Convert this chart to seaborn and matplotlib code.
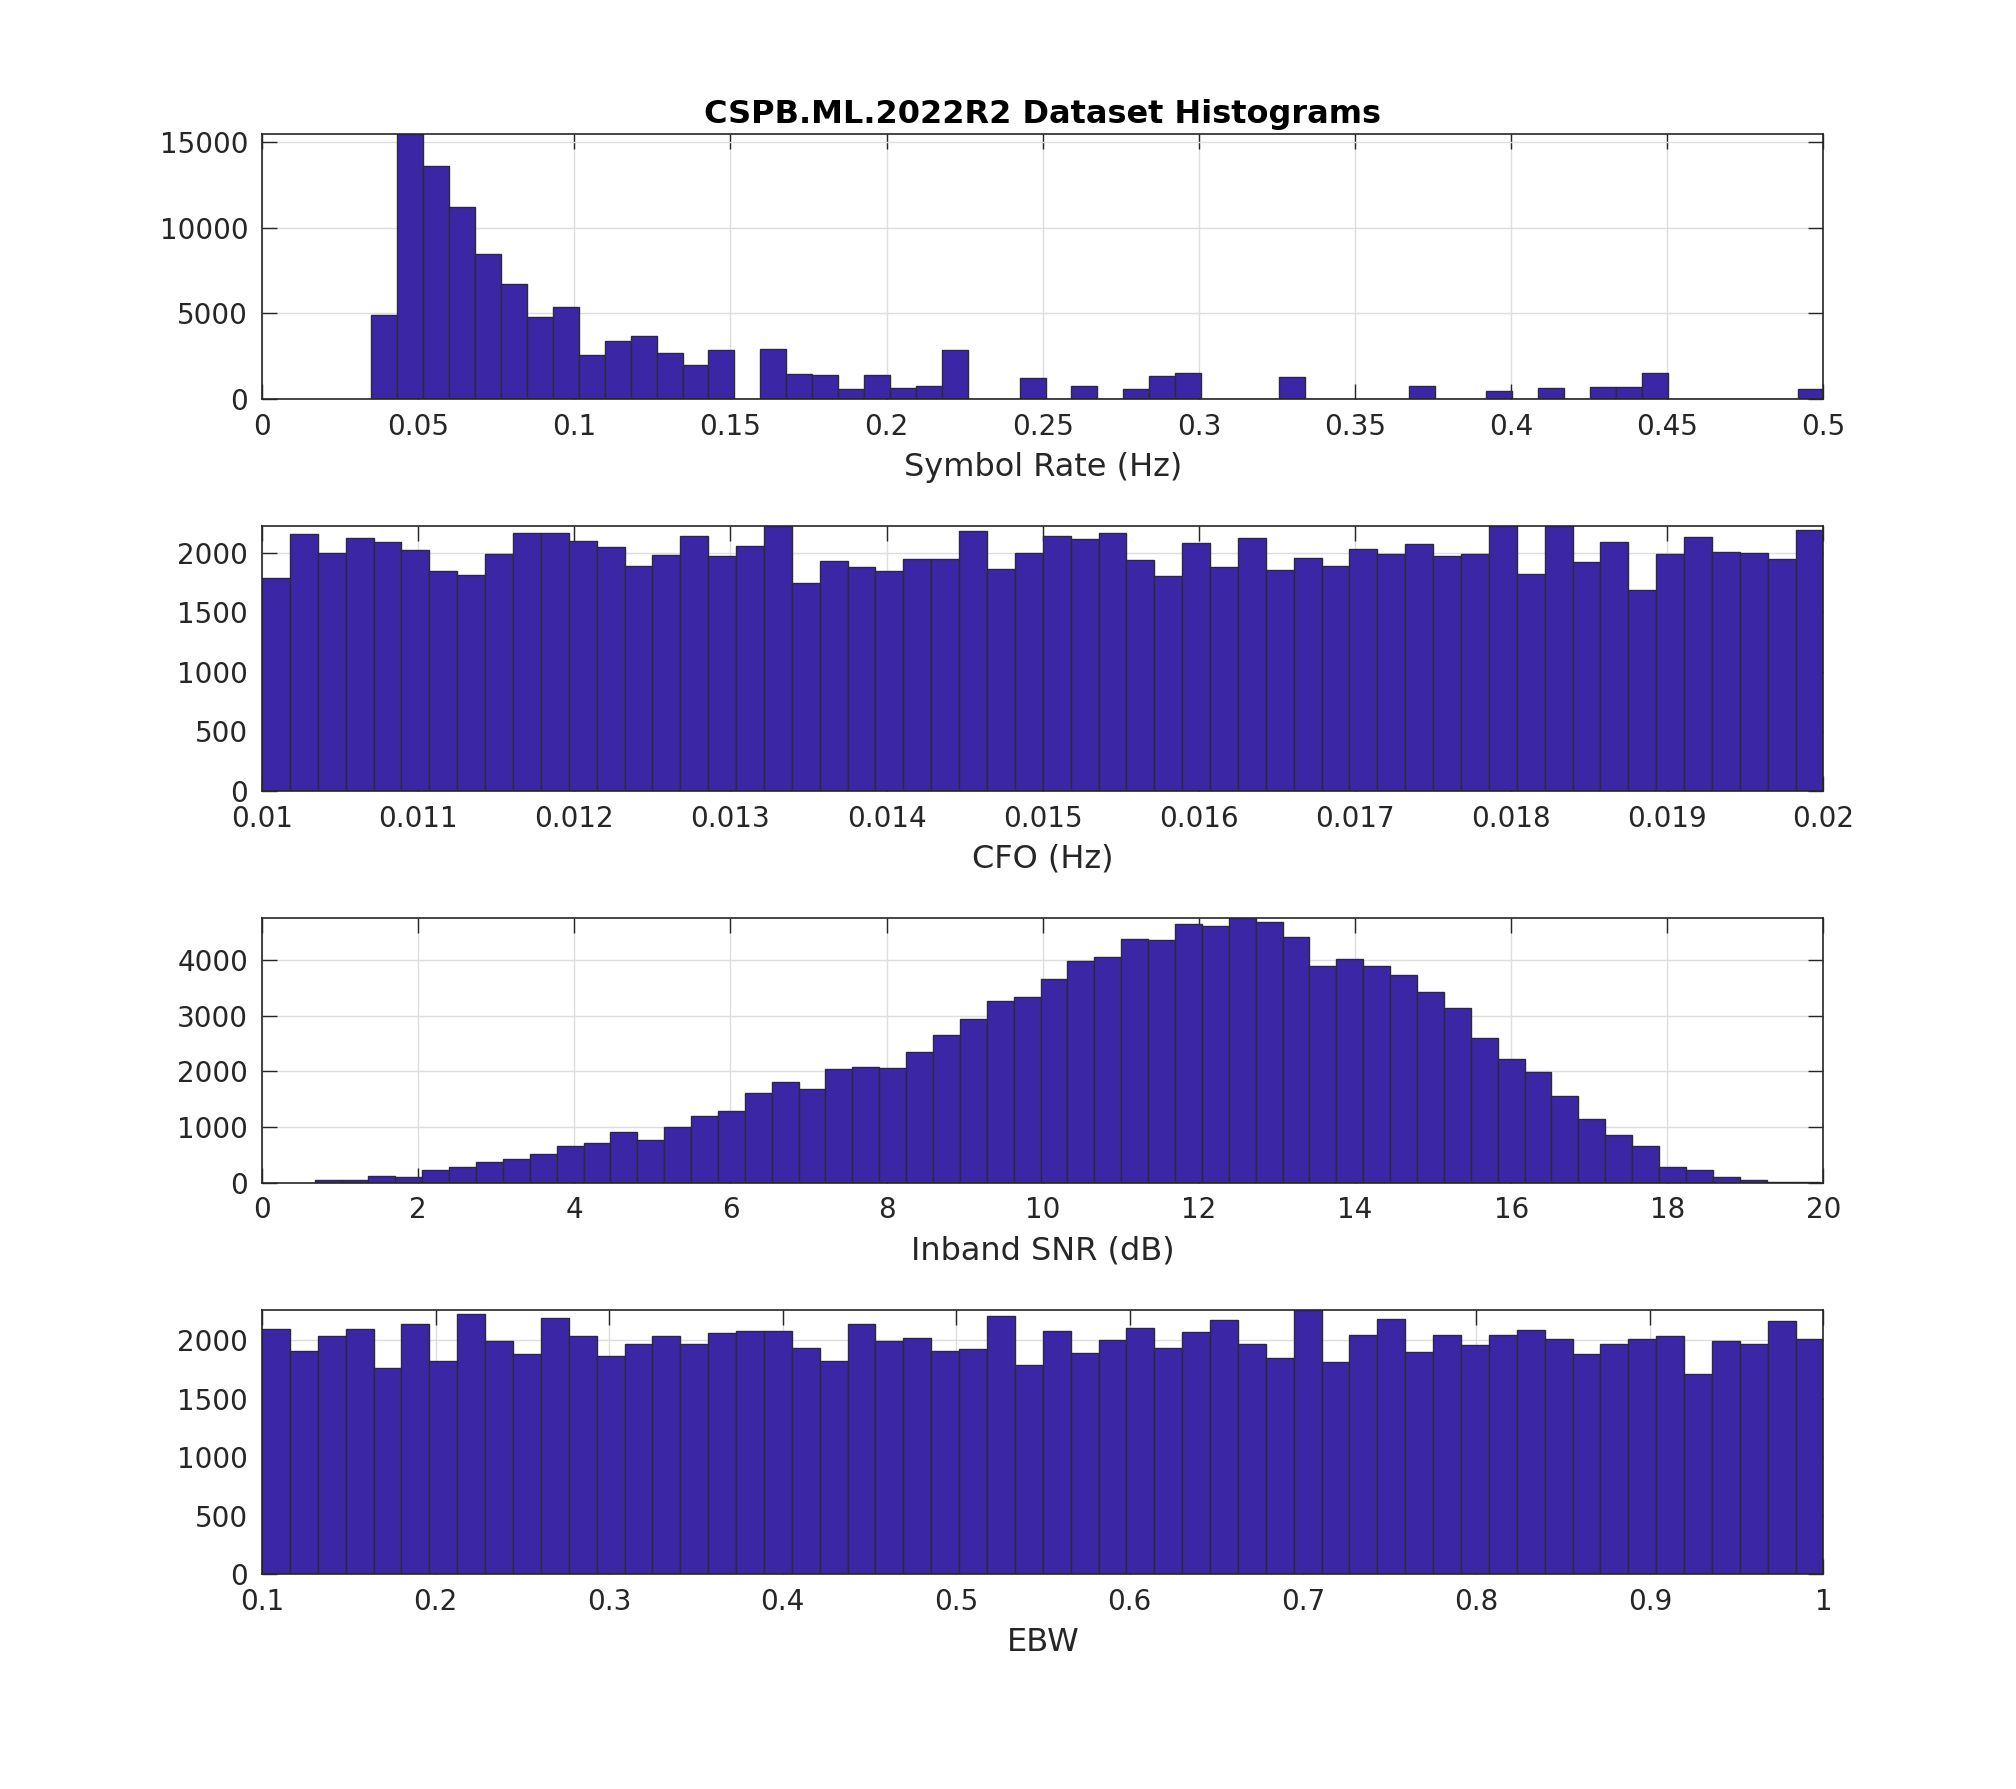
import seaborn as sns
import pandas as pd
import numpy as np
import matplotlib
matplotlib.use('Agg')
import matplotlib.pyplot as plt

# histogram counts (56 bins each)
sym_rate_range = (0.035, 0.5)
sym_rate_counts = [4884, 15465, 13605, 11221, 8450, 6686, 4787, 5388, 2558, 3372,
                   3682, 2674, 1957, 2849, 0, 2907, 1453, 1395, 581, 1415,
                   620, 756, 2849, 0, 0, 1221, 0, 736, 0, 581,
                   1337, 1512, 0, 0, 0, 1260, 0, 0, 0, 0,
                   736, 0, 0, 484, 0, 620, 0, 717, 678, 1492,
                   0, 0, 0, 0, 0, 581]

cfo_range = (0.01, 0.02)
cfo_counts = [1785, 2154, 1994, 2120, 2092, 2020, 1849, 1810, 1986, 2162,
              2162, 2101, 2050, 1891, 1978, 2137, 1969, 2059, 2225, 1745,
              1927, 1877, 1849, 1944, 1944, 2179, 1866, 2000, 2137, 2115,
              2170, 1936, 1807, 2078, 1880, 2120, 1857, 1953, 1888, 2034,
              1986, 2070, 1969, 1986, 2222, 1818, 2222, 1919, 2092, 1687,
              1986, 2129, 2008, 2000, 1947, 2193]

snr_range = (0.673, 19.96)
snr_counts = [42, 42, 119, 107, 220, 274, 363, 429, 518, 649,
              708, 911, 768, 1000, 1196, 1286, 1607, 1804, 1673, 2042,
              2077, 2065, 2345, 2643, 2929, 3262, 3327, 3655, 3988, 4054,
              4375, 4363, 4637, 4613, 4756, 4685, 4411, 3887, 4018, 3881,
              3726, 3429, 3137, 2589, 2220, 1988, 1560, 1137, 845, 649,
              286, 232, 101, 42, 18, 18]

ebw_range = (0.1, 1.0)
ebw_counts = [2099, 1907, 2037, 2093, 1762, 2139, 1819, 2229, 1997, 1884,
              2187, 2037, 1867, 1972, 2037, 1972, 2059, 2082, 2082, 1932,
              1827, 2139, 1997, 2017, 1907, 1924, 2204, 1793, 2082, 1892,
              2006, 2108, 1938, 2068, 2170, 1972, 1853, 2263, 1813, 2042,
              2178, 1904, 2042, 1963, 2042, 2085, 2011, 1884, 1972, 2008,
              2034, 1714, 1994, 1972, 2164, 2008]

xlabels = ['Symbol Rate (Hz)', 'CFO (Hz)', 'Inband SNR (dB)', 'EBW']
xlims = [(0, 0.5), (0.01, 0.02), (0, 20), (0.1, 1)]
xticks = [np.arange(0, 0.501, 0.05), np.arange(0.01, 0.02001, 0.001),
          np.arange(0, 20.1, 2), np.arange(0.1, 1.001, 0.1)]
yticks = [[0, 5000, 10000, 15000], [0, 500, 1000, 1500, 2000],
          [0, 1000, 2000, 3000, 4000], [0, 500, 1000, 1500, 2000]]

sns.set_theme(style='whitegrid')
plt.rcParams['font.family'] = ['DejaVu Sans']

fig = plt.figure(figsize=(20.16, 17.89), dpi=100)
bottoms = [0.777, 0.558, 0.339, 0.12]
bar_color = '#3b27a6'

ranges = [sym_rate_range, cfo_range, snr_range, ebw_range]
counts = [sym_rate_counts, cfo_counts, snr_counts, ebw_counts]

for i in range(4):
    ax = fig.add_axes([0.13, bottoms[i], 0.7745, 0.148])
    edges = np.linspace(ranges[i][0], ranges[i][1], len(counts[i]) + 1)
    df = pd.DataFrame({'x': (edges[:-1] + edges[1:]) / 2, 'n': counts[i]})
    sns.histplot(data=df, x='x', weights='n', bins=edges.tolist(), ax=ax,
                 color=bar_color, alpha=1, edgecolor='#2a2a3a', linewidth=1.0)
    ax.set_xlim(*xlims[i])
    ax.set_ylim(0, max(counts[i]))
    ax.set_xticks(xticks[i])
    ax.set_xticklabels(['%g' % round(t, 4) for t in xticks[i]])
    ax.set_yticks(yticks[i])
    ax.set_yticklabels([str(t) for t in yticks[i]])
    ax.set_xlabel(xlabels[i], fontsize=23, color='#262626', labelpad=8)
    ax.set_ylabel('')
    ax.set_axisbelow(True)
    ax.grid(True, color='#dddddd', linewidth=1.0)
    for s in ax.spines.values():
        s.set_color('#262626')
        s.set_linewidth(1.2)
    ax.tick_params(direction='in', length=11, width=1.0, colors='#262626',
                   labelsize=20, top=True, right=True, pad=10,
                   bottom=True, left=True)
    if i == 0:
        ax.set_title('CSPB.ML.2022R2 Dataset Histograms', fontsize=23,
                     fontweight='bold', color='black', pad=8)

plt.savefig('out.png', dpi=100)
